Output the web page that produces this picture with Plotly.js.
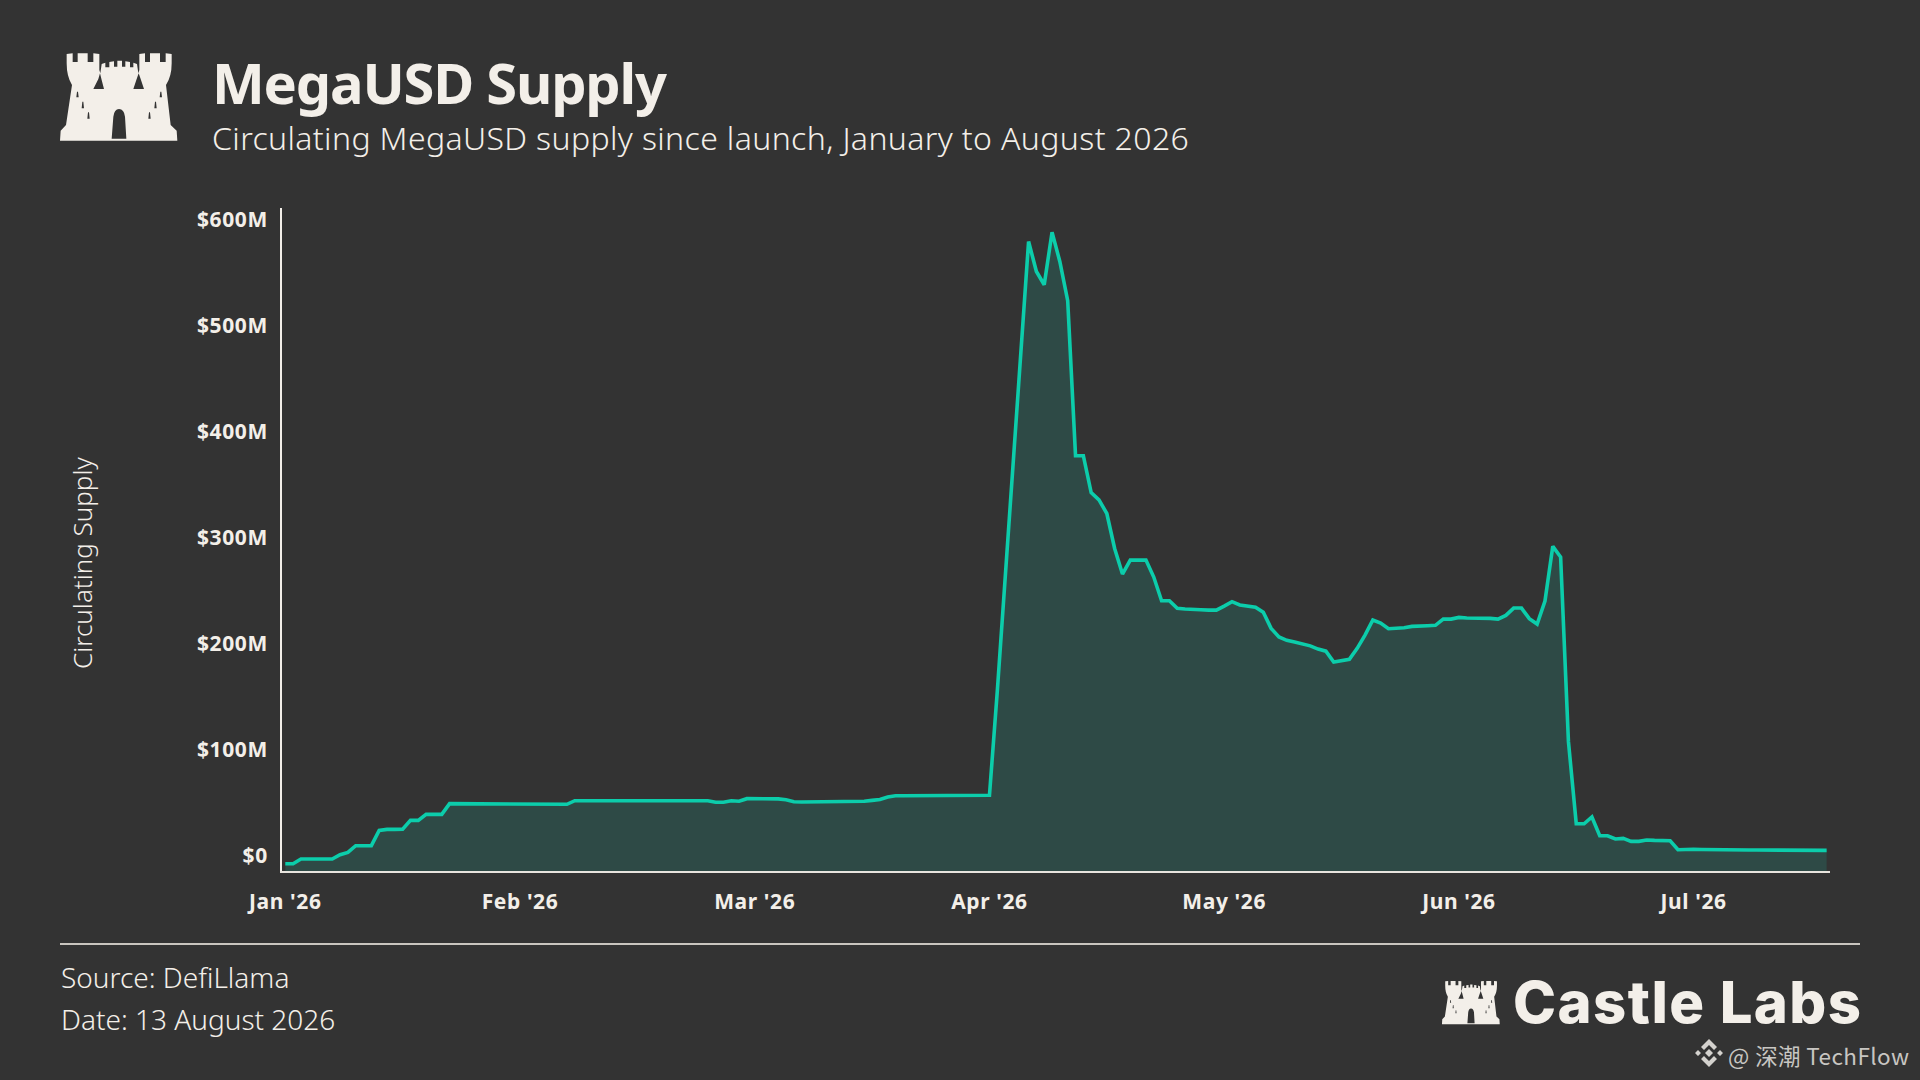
<!DOCTYPE html>
<html>
<head>
<meta charset="utf-8">
<script src="https://cdn.plot.ly/plotly-3.0.1.min.js"></script>
<style>
html, body { margin: 0; padding: 0; background: #333333; }
#chart { width: 1920px; height: 1080px; }
/* the reference labels sit a little above their ticks */
.yaxislayer-above .ytick { transform: translate(0, 6px); }
.ytick text, .xtick text { letter-spacing: 0.6px; }
.annotation[data-index="0"] text { letter-spacing: -1.2px; }
.annotation[data-index="1"] text { letter-spacing: 0.37px; }
.annotation[data-index="4"] text { letter-spacing: 1.4px; }
.annotation[data-index="5"] text { letter-spacing: 0.4px; }
</style>
</head>
<body>
<div id="chart"></div>
<script>
// daily circulating supply in $M
const supplyJan = [0.3, 0.3, 4.7, 4.7, 4.7, 4.7, 4.7, 8.8, 11, 17.3, 17.3, 17.3, 31.8, 32.7, 32.7, 32.8, 41.2, 41.2, 46.9, 46.9, 46.9, 57, 57, 57, 57, 57, 57, 57, 57, 57]
const supplyFeb = [56.7, 56.5, 56.4, 56.4, 56.4, 56.4, 56.4, 59.8, 59.8, 59.8, 59.8, 59.8, 59.8, 59.8, 59.8, 59.8, 59.8, 59.8, 59.8, 59.8, 59.8, 59.8, 59.8, 59.8, 59.8, 58.3, 58.3, 59.8, 59.3, 61.7]
const supplyMar = [61.7, 61.7, 61.7, 61.5, 60.7, 58.8, 58.5, 58.5, 58.5, 58.5, 58.5, 58.5, 58.5, 58.7, 59.2, 60.1, 61, 63.3, 64.5, 64.5, 64.5, 64.5, 64.5, 64.5, 64.5, 64.5, 64.9, 64.9, 64.9, 64.9]
const supplyApr = [64.9, 163, 271, 379.6, 489, 587.8, 559.6, 547, 596.7, 568.8, 531.9, 385.6, 385.6, 350.7, 343.8, 331, 298, 273.8, 287, 287, 287, 271, 248.6, 248.6, 241.4, 240.8, 240.8, 240.1, 239.8, 239.8]
const supplyMay = [243.6, 247.7, 244.6, 243.9, 242.4, 237.7, 222.5, 214.4, 211.2, 209.6, 208, 206, 203, 201, 190.7, 192, 193.3, 203.7, 216.2, 230.4, 227.6, 222.2, 222.5, 223.1, 224.4, 224.4, 225, 225.4, 231.3, 231.3]
const supplyJun = [232.9, 232.3, 232.3, 232, 232, 231.3, 234.8, 241.7, 241.7, 231.7, 226.6, 248.3, 300, 289.9, 115.5, 38, 38, 44.4, 26.7, 26.7, 23.6, 24.2, 21.4, 21.4, 22.7, 22.3, 22, 22, 13.5, 13.9]
const supplyJul = [13.9, 13.7, 13.5, 13.2, 13.2, 13.2, 13.2, 13.2, 13.2, 13.2, 13.2, 13.2, 13.2, 13.1, 13, 13, 13, 12.9]
const supply = [...supplyJan, ...supplyFeb, ...supplyMar, ...supplyApr, ...supplyMay, ...supplyJun, ...supplyJul]
const days = supply.map((v, i) => i)

const monthTicks = [0, 30, 60, 90, 120, 150, 180]
const monthLabels = ["Jan '26", "Feb '26", "Mar '26", "Apr '26", "May '26", "Jun '26", "Jul '26"]
const supplyTicks = [0, 100, 200, 300, 400, 500, 600]
const supplyLabels = ["$0", "$100M", "$200M", "$300M", "$400M", "$500M", "$600M"]

const yFloor = -6.6

const BG = "#333333"
const INK = "#F3EFE9"
const TEAL = "#0CCDAB"
const HEAD_FONT = "'Noto Sans', sans-serif"
const BODY_FONT = "'Noto Sans', sans-serif"
const LOGO_FONT = "Inter, sans-serif"

// plot box in page pixels
const box = { l: 282, r: 1830, t: 208, b: 871 }
const px = x => (x - box.l) / (box.r - box.l)
const py = y => (box.b - y) / (box.b - box.t)

function castleSvg() {
    return "data:image/svg+xml," + encodeURIComponent(
        `<svg xmlns="http://www.w3.org/2000/svg" viewBox="0 0 420 330">
        <path fill="${INK}" d="M30 302 L32 272 L48 255 L66 135 Q50 110 50 70 L50 42 L68 40 L68 66 L83 66 L83 40 L113 40 L113 66 L130 66 L130 40 L148 42 L148 90 L151 100 L155 72 L166 68 L166 82 L178 82 L178 66 L192 64 L192 80 L202 80 L202 62 L216 62 L216 80 L226 80 L226 64 L240 66 L240 82 L250 82 L250 68 L261 72 L265 100 L268 90 L268 42 L285 40 L285 66 L300 66 L300 40 L330 40 L330 66 L347 66 L347 40 L365 42 L365 70 Q365 110 348 135 L362 255 L380 272 L382 302 Z"/>
        <path fill="${BG}" d="M130 147 L162 147 L155 120 L150 100 L145 117 Z M250 147 L282 147 L272 117 L266 100 L259 120 Z M185 296 L190 230 Q193 207 207 207 Q222 207 225 230 L229 296 Z"/>
        <path fill="${BG}" d="M79 172 L81 155 L84 155 L86 172 Z M95 205 L97 185 L100 185 L102 205 Z M112 236 L114 217 L117 217 L119 236 Z M329 172 L331 155 L334 155 L336 172 Z M313 205 L315 185 L318 185 L320 205 Z M295 236 L297 217 L300 217 L302 236 Z"/>
        </svg>`)
}

function diamondSvg() {
    return "data:image/svg+xml," + encodeURIComponent(
        `<svg xmlns="http://www.w3.org/2000/svg" viewBox="0 0 28 28">
        <path fill="#D4D2CE" d="M14 0 L22 8 L19 11 L14 6 L9 11 L6 8 Z M14 28 L6 20 L9 17 L14 22 L19 17 L22 20 Z M0 14 L3 11 L6 14 L3 17 Z M22 14 L25 11 L28 14 L25 17 Z M14 10 L18 14 L14 18 L10 14 Z"/>
        </svg>`)
}

function pageImage(source, x, y, w, h) {
    return {
        source: source, xref: "paper", yref: "paper", xanchor: "left", yanchor: "top",
        x: px(x), y: py(y), sizex: w / (box.r - box.l), sizey: h / (box.b - box.t),
        sizing: "stretch", layer: "above"
    }
}

function pageText(text, x, y, size, family, weight, color) {
    return {
        text: text, xref: "paper", yref: "paper", x: px(x), y: py(y),
        xanchor: "left", yanchor: "middle", showarrow: false, align: "left",
        font: { size: size, family: family, weight: weight, color: color || INK }
    }
}

const data = [
    {
        // floor trace so the area runs down to the axis line, not just to zero
        x: days, y: days.map(() => yFloor), mode: "lines",
        line: { width: 0 }, hoverinfo: "skip", showlegend: false
    },
    {
        x: days, y: supply, mode: "lines", fill: "tonexty", fillcolor: "#2E4A46",
        line: { color: TEAL, width: 3.6 }, showlegend: false
    }
]

const layout = {
    width: 1920,
    height: 1080,
    paper_bgcolor: BG,
    plot_bgcolor: BG,
    margin: { l: box.l, r: 1920 - box.r, t: box.t, b: 1080 - box.b, pad: 0 },
    showlegend: false,
    xaxis: {
        range: [-0.42, 197.43],
        tickmode: "array", tickvals: monthTicks, ticktext: monthLabels,
        tickfont: { family: BODY_FONT, size: 21, weight: 700, color: INK },
        ticks: "", ticklabelstandoff: 11,
        showgrid: false, zeroline: false,
        showline: true, linecolor: "#E8E4DE", linewidth: 2
    },
    yaxis: {
        range: [yFloor, 619.5],
        tickmode: "array", tickvals: supplyTicks, ticktext: supplyLabels,
        tickfont: { family: BODY_FONT, size: 21, weight: 700, color: INK },
        ticks: "", ticklabelposition: "outside top", ticklabelstandoff: 8,
        showgrid: false, zeroline: false,
        showline: true, linecolor: INK, linewidth: 2
    },
    shapes: [
        {
            type: "line", xref: "paper", yref: "paper",
            x0: px(60), x1: px(1860), y0: py(944), y1: py(944),
            line: { color: "#C9C5BF", width: 2 }
        }
    ],
    images: [
        pageImage(castleSvg(), 50, 40, 140, 110),
        pageImage(castleSvg(), 1437, 974.4, 69, 54.4),
        pageImage(diamondSvg(), 1695, 1039, 28, 28)
    ],
    annotations: [
        pageText("MegaUSD Supply", 210, 81.5, 56, HEAD_FONT, 700),
        pageText("Circulating MegaUSD supply since launch, January to August 2026", 210, 138, 32, BODY_FONT, 300),
        pageText("Source: DefiLlama", 59, 977, 28, BODY_FONT, 300),
        pageText("Date: 13 August 2026", 59, 1019, 28, BODY_FONT, 300),
        pageText("Castle Labs", 1511, 1002, 58, LOGO_FONT, 800),
        pageText("@ 深潮 TechFlow", 1726, 1055, 22.5, "'Noto Sans CJK SC', 'Noto Sans', sans-serif", 400, "#C8C6C2"),
        {
            text: "Circulating Supply", xref: "paper", yref: "paper", x: px(82), y: py(563),
            xanchor: "center", yanchor: "middle", showarrow: false, textangle: -90,
            font: { size: 26, family: BODY_FONT, weight: 300, color: INK }
        }
    ]
}

Plotly.newPlot("chart", data, layout, { displayModeBar: false, staticPlot: true })
</script>
</body>
</html>
